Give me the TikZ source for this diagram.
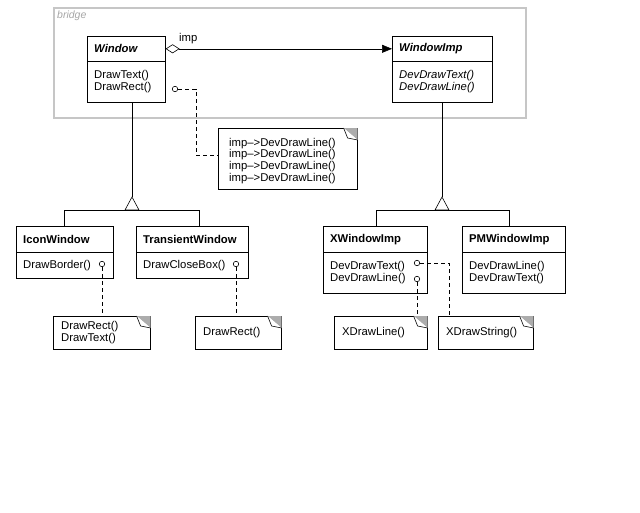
\documentclass[tikz,border=0pt]{standalone}
\usepackage{fontspec}
\setmainfont{Liberation Sans}
\usetikzlibrary{arrows.meta,positioning}
\tikzset{
  box/.style={draw,inner sep=0pt,anchor=north west,line width=0.6pt},
  lbl/.style={anchor=west,inner sep=0pt,align=left,font=\fontsize{11.3}{12.5}\selectfont},
  link/.style={dashed,dash pattern=on 4pt off 3pt,line width=0.6pt},
  knob/.style={circle,draw,fill=white,inner sep=0pt,minimum size=5.5pt,line width=0.6pt},
  note/.pic={
    \fill[gray!65] (-14,0) -- (0,0) -- (0,12) -- cycle;
    \draw[line width=0.6pt,fill=white] (-14,0) -- (-10,10) -- (0,12);
  }
}
\begin{document}
\begin{tikzpicture}[x=1pt,y=-1pt]
  \useasboundingbox (0,0) rectangle (640,512);
  % bridge frame
  \draw[gray!45,line width=1.5pt] (54,8) rectangle (526,118);
  \node[anchor=north west,inner sep=0pt,text=gray!70,font=\fontsize{10.5}{11}\selectfont\itshape] (brlbl) at (57,11) {bridge};
  % abstraction
  \node[box,minimum width=78,minimum height=25] (win) at (87,36) {};
  \node[box,minimum width=78,minimum height=41] (winm) at (87,61) {};
  \node[lbl] at ([xshift=7]win.west) {\textbf{\textit{Window}}};
  \node[lbl] (wintxt) at ([xshift=7]winm.west) {DrawText()\\DrawRect()};
  % implementor
  \node[box,minimum width=100,minimum height=25] (imp) at (392,36) {};
  \node[box,minimum width=100,minimum height=41] (impm) at (392,61) {};
  \node[lbl] at ([xshift=7]imp.west) {\textbf{\textit{WindowImp}}};
  \node[lbl] at ([xshift=7]impm.west) {\textit{DevDrawText()}\\\textit{DevDrawLine()}};
  \draw[line width=0.6pt,{Diamond[open,length=14,width=9]}-{Triangle[length=10,width=8]}] (win.east) -- (imp.west)
    node[pos=0.1,above=1pt,font=\fontsize{11.3}{12}\selectfont] {imp};
  % refined abstractions
  \node[box,minimum width=97,minimum height=26] (icon) at (16,226) {};
  \node[box,minimum width=97,minimum height=26] (iconm) at (16,252) {};
  \node[lbl] at ([xshift=7]icon.west) {\textbf{IconWindow}};
  \node[lbl] at ([xshift=7]iconm.west) {DrawBorder()};
  \node[box,minimum width=112,minimum height=26] (tran) at (136,226) {};
  \node[box,minimum width=112,minimum height=26] (tranm) at (136,252) {};
  \node[lbl] at ([xshift=7]tran.west) {\textbf{TransientWindow}};
  \node[lbl] at ([xshift=7]tranm.west) {DrawCloseBox()};
  % concrete implementors
  \node[box,minimum width=104,minimum height=26] (xw) at (323,226) {};
  \node[box,minimum width=104,minimum height=41] (xwm) at (323,252) {};
  \node[lbl] at ([xshift=7]xw.west) {\textbf{XWindowImp}};
  \node[lbl] at ([xshift=7]xwm.west) {DevDrawText()\\DevDrawLine()};
  \node[box,minimum width=103,minimum height=26] (pm) at (462,226) {};
  \node[box,minimum width=103,minimum height=41] (pmm) at (462,252) {};
  \node[lbl] at ([xshift=7]pm.west) {\textbf{PMWindowImp}};
  \node[lbl] at ([xshift=7]pmm.west) {DevDrawLine()\\DevDrawText()};
  % inheritance
  \coordinate (lt) at (132,197);
  \coordinate (rt) at (442,197);
  \draw[line width=0.6pt] (lt) -- ++(-7,13) -- ++(14,0) -- cycle;
  \draw[line width=0.6pt] (rt) -- ++(-7,13) -- ++(14,0) -- cycle;
  \draw[line width=0.6pt] (winm.south -| lt) -- (lt);
  \draw[line width=0.6pt] (impm.south -| rt) -- (rt);
  \draw[line width=0.6pt] (icon.north -| 64,0) |- (199,210) -- (tran.north -| 199,0);
  \draw[line width=0.6pt] (xw.north -| 376,0) |- (509,210) -- (pm.north -| 509,0);
  % notes
  \node[box,minimum width=139,minimum height=61] (n1) at (218,128) {};
  \node[lbl,font=\fontsize{11.3}{11.6}\selectfont] at ([xshift=11,yshift=-2]n1.west) {imp–>DevDrawLine()\\imp–>DevDrawLine()\\imp–>DevDrawLine()\\imp–>DevDrawLine()};
  \node[box,minimum width=97,minimum height=33] (n2) at (53,316) {};
  \node[lbl] at ([xshift=8]n2.west) {DrawRect()\\DrawText()};
  \node[box,minimum width=86,minimum height=33] (n3) at (195,316) {};
  \node[lbl] at ([xshift=8]n3.west) {DrawRect()};
  \node[box,minimum width=93,minimum height=33] (n4) at (334,316) {};
  \node[lbl] at ([xshift=8]n4.west) {XDrawLine()};
  \node[box,minimum width=95,minimum height=33] (n5) at (438,316) {};
  \node[lbl] at ([xshift=8]n5.west) {XDrawString()};
  \foreach \n in {n1,n2,n3,n4,n5} \pic at (\n.north east) {note};
  % note links
  \node[knob] (k1) at (175,89) {};
  \node[knob] (k2) at (102,264) {};
  \node[knob] (k3) at (236,264) {};
  \node[knob] (k4) at (417,263) {};
  \node[knob] (k5) at (417,279) {};
  \draw[link] (k1) -| (196,155) -- (n1.west |- 0,155);
  \draw[link] (k2) -- (n2.north -| k2);
  \draw[link] (k3) -- (n3.north -| k3);
  \draw[link] (k4) -| (n5.north -| 449,0);
  \draw[link] (k5) -- (n4.north -| k5);
\end{tikzpicture}
\end{document}
